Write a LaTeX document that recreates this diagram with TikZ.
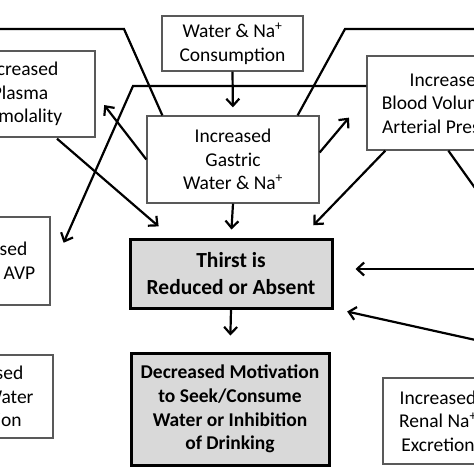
\documentclass[tikz,border=0pt]{standalone}
\usepackage{fontspec}
\setmainfont{Carlito}
\usetikzlibrary{arrows.meta,calc}
\definecolor{boxline}{RGB}{89, 89, 89}
\definecolor{shade}{RGB}{217, 217, 217}

\begin{document}
\begin{tikzpicture}[x=1pt, y=-1pt,
        plainbox/.style={draw=boxline, line width=1.3pt, fill=white, align=center, inner sep=0pt,
                         font=\fontsize{19.5}{23.5}\selectfont},
        keybox/.style={draw=black, line width=3pt, fill=shade, align=center, inner sep=0pt},
        link/.style={line width=2.2pt},
        arrow/.style={link, -{Straight Barb[length=7pt,width=13pt]}}]
            \clip (0,0) rectangle (474,474);
            % boxes
            \node[plainbox, minimum width=141pt, minimum height=55pt] (consume) at (232.5, 43.5)
                 {Water \& Na\textsuperscript{+}\\Consumption};
            \node[plainbox, minimum width=150pt, minimum height=86pt] (plasma)  at ( 20.0, 94.0)
                 {Increased\\Plasma\\Osmolality};
            \node[plainbox, minimum width=172pt, minimum height=87pt] (gastric) at (233.0,159.5)
                 {Increased\\Gastric\\Water \& Na\textsuperscript{+}};
            \node[plainbox, minimum width=162pt, minimum height=94pt] (blood)   at (448.0,103.0)
                 {Increased\\Blood Volume or\\Arterial Pressure};
            \node[plainbox, minimum width=122pt, minimum height=88pt] (avp)     at (-11.0,261.0)
                 {Increased\\Plasma AVP};
            \node[plainbox, minimum width=136pt, minimum height=83pt] (water)   at (-15.0,396.5)
                 {Increased\\Renal Water\\Excretion};
            \node[plainbox, minimum width=110pt, minimum height=86pt] (renal)   at (438.0,421.0)
                 {Increased\\Renal Na\textsuperscript{+}\\Excretion};
            \node[keybox, minimum width=202pt, minimum height=69pt,
                  font=\fontsize{21.5}{27}\selectfont\bfseries]                (thirst)  at (231.0,273.5)
                 {Thirst is\\Reduced or Absent};
            \node[keybox, minimum width=198pt, minimum height=112pt,
                  font=\fontsize{19.5}{23.7}\selectfont\bfseries]              (motive)  at (230.0,409.0)
                 {Decreased Motivation\\to Seek/Consume\\Water or Inhibition\\of Drinking};
            % free ends at the picture edge
            \coordinate (leftout)  at ( -5, 29);
            \coordinate (rightout) at (480, 29);
            \coordinate (lowout)   at (480,195);
            \coordinate (sideA)    at (480,269);
            \coordinate (sideB)    at (480,341);
            % connectors
            \draw[arrow, shorten >=8pt]  (consume.south) -- (gastric.north);
            \draw[arrow, shorten >=8pt]  (gastric.south) -- (thirst.north);
            \draw[arrow, shorten >=16pt] (thirst.south)  -- (motive.north);
            \draw[arrow, shorten >=14pt] (gastric.west)  -- (plasma.east);
            \draw[arrow, shorten >=17pt] ($(plasma.south)+(37,1)$) -- ($(thirst.north west)+(43,0)$);
            \draw[arrow, shorten >=27pt] ($(gastric.east)+(0,-7)$) -- ($(blood.west)+(0,-6)$);
            \draw[arrow, shorten >=17pt] ($(blood.south west)+(19,0)$) -- ($(thirst.north east)+(-32,0)$);
            \draw[arrow, shorten >=32pt] ($(blood.west)+(0,-17)$) -- (133,86) -- ($(avp.east)+(0,11)$);
            \draw[link]                  (leftout) -- (124,29) -- ($(gastric.north west)+(16,0)$);
            \draw[link]                  (rightout) -- (345,29) -- ($(gastric.north east)+(-22,0)$);
            \draw[link]                  ($(blood.south west)+(82,0)$) -- (lowout);
            \draw[arrow, shorten >=22pt] (sideA) -- ($(thirst.east)+(0,-4.5)$);
            \draw[arrow, shorten >=14pt] (sideB) -- ($(thirst.south east)+(0,-1)$);
        \end{tikzpicture}
\end{document}
